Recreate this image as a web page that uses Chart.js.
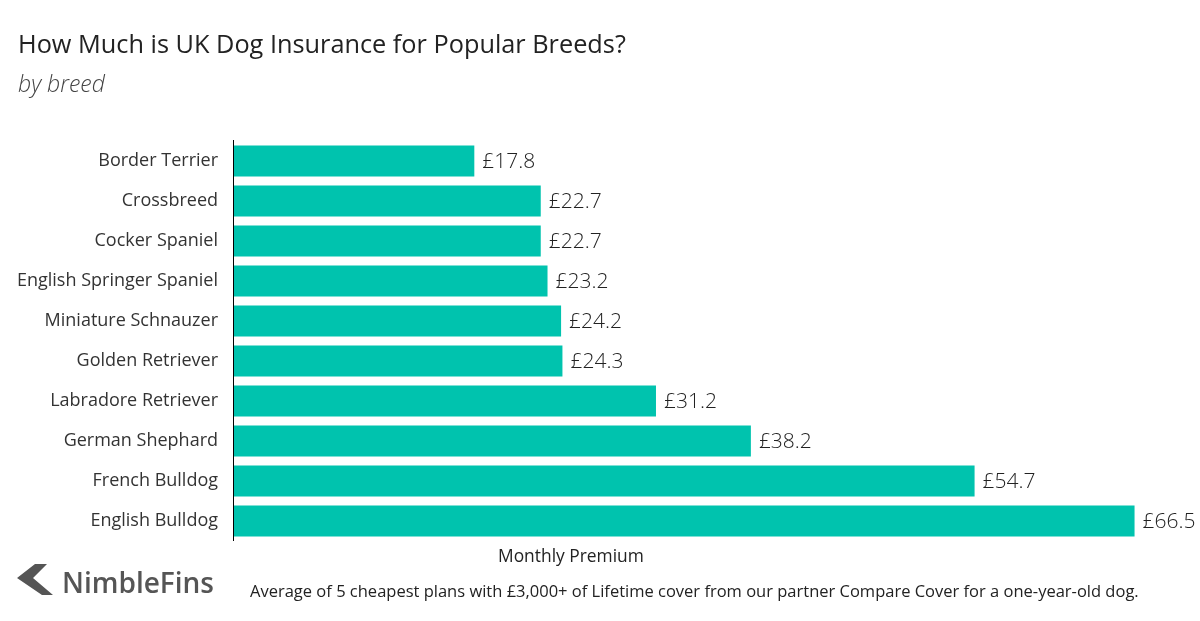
<!DOCTYPE html>
<html>
<head>
<meta charset="utf-8">
<script src="https://cdn.jsdelivr.net/npm/chart.js@4"></script>
<style>
  html, body { margin: 0; padding: 0; background: #fff; }
  #wrap { width: 1200px; height: 621px; }
</style>
</head>
<body>
<div id="wrap"><canvas id="breedChart" width="1200" height="621"></canvas></div>
<script>
const breeds = [
    'Border Terrier',
    'Crossbreed',
    'Cocker Spaniel',
    'English Springer Spaniel',
    'Miniature Schnauzer',
    'Golden Retriever',
    'Labradore Retriever',
    'German Shephard',
    'French Bulldog',
    'English Bulldog',
];
const premiums = [17.8, 22.7, 22.7, 23.2, 24.2, 24.3, 31.2, 38.2, 54.7, 66.5];

const FONT = '"Open Sans", Roboto, sans-serif';
const BAR_COLOR = '#00c3ae';

// draw text scaled so that it spans roughly the width seen in the picture
function fitText(ctx, text, x, y, width, style) {
    ctx.font = style + ' 20px ' + FONT;
    const size = 20 * width / ctx.measureText(text).width;
    ctx.font = style + ' ' + size.toFixed(1) + 'px ' + FONT;
    ctx.fillText(text, x, y);
}

// title, subtitle, value labels, axis title, logo and footnote
const extras = {
    id: 'extras',
    afterDatasetsDraw(chart) {
        const ctx = chart.ctx;
        const meta = chart.getDatasetMeta(0);
        ctx.save();
        ctx.fillStyle = '#222';
        ctx.font = '300 21px ' + FONT;
        ctx.textAlign = 'left';
        ctx.textBaseline = 'middle';
        meta.data.forEach((bar, i) => {
            ctx.fillText('£' + premiums[i].toFixed(1), bar.x + 8, bar.y + 1);
        });
        ctx.restore();
    },
    afterDraw(chart) {
        const ctx = chart.ctx;
        const area = chart.chartArea;
        ctx.save();
        ctx.textBaseline = 'alphabetic';
        ctx.textAlign = 'left';

        ctx.fillStyle = '#222';
        fitText(ctx, 'How Much is UK Dog Insurance for Popular Breeds?', 18, 53, 607, 'normal 400');

        ctx.fillStyle = '#444';
        fitText(ctx, 'by breed', 18, 92, 87, 'italic 300');

        ctx.fillStyle = '#222';
        fitText(ctx, 'Monthly Premium', 498, 562, 146, 'normal 400');

        fitText(ctx, 'Average of 5 cheapest plans with £3,000+ of Lifetime cover from our partner Compare Cover for a one-year-old dog.', 250, 597, 890, 'normal 400');

        // logo chevron
        ctx.fillStyle = '#555';
        ctx.beginPath();
        ctx.moveTo(35, 564);
        ctx.lineTo(47, 564);
        ctx.lineTo(33, 578);
        ctx.lineTo(53, 595);
        ctx.lineTo(42, 595);
        ctx.lineTo(17, 578);
        ctx.closePath();
        ctx.fill();

        ctx.fillStyle = '#555';
        fitText(ctx, 'NimbleFins', 62, 593, 152, 'normal 600');

        // y axis line
        ctx.strokeStyle = '#000';
        ctx.lineWidth = 1;
        ctx.beginPath();
        ctx.moveTo(area.left + 0.5, area.top - 1);
        ctx.lineTo(area.left + 0.5, area.bottom);
        ctx.stroke();
        ctx.restore();
    }
};

const config = {
    type: 'bar',
    data: {
        labels: breeds,
        datasets: [{
            data: premiums,
            backgroundColor: BAR_COLOR,
            borderWidth: 0,
            categoryPercentage: 1,
            barPercentage: 0.78,
        }],
    },
    options: {
        indexAxis: 'y',
        responsive: false,
        animation: false,
        layout: {
            padding: { top: 141, bottom: 80, left: 0, right: 18 },
        },
        plugins: {
            legend: { display: false },
            tooltip: { enabled: false },
            title: { display: false },
        },
        scales: {
            x: {
                display: false,
                min: 0,
                max: 70,
            },
            y: {
                grid: { display: false, drawTicks: false },
                border: { display: false },
                ticks: {
                    color: '#333',
                    font: { family: FONT, size: 18 },
                    padding: 15,
                },
                afterFit(scale) {
                    scale.width = 233;
                },
            },
        },
    },
    plugins: [extras],
};

new Chart(document.getElementById('breedChart'), config);
</script>
</body>
</html>
